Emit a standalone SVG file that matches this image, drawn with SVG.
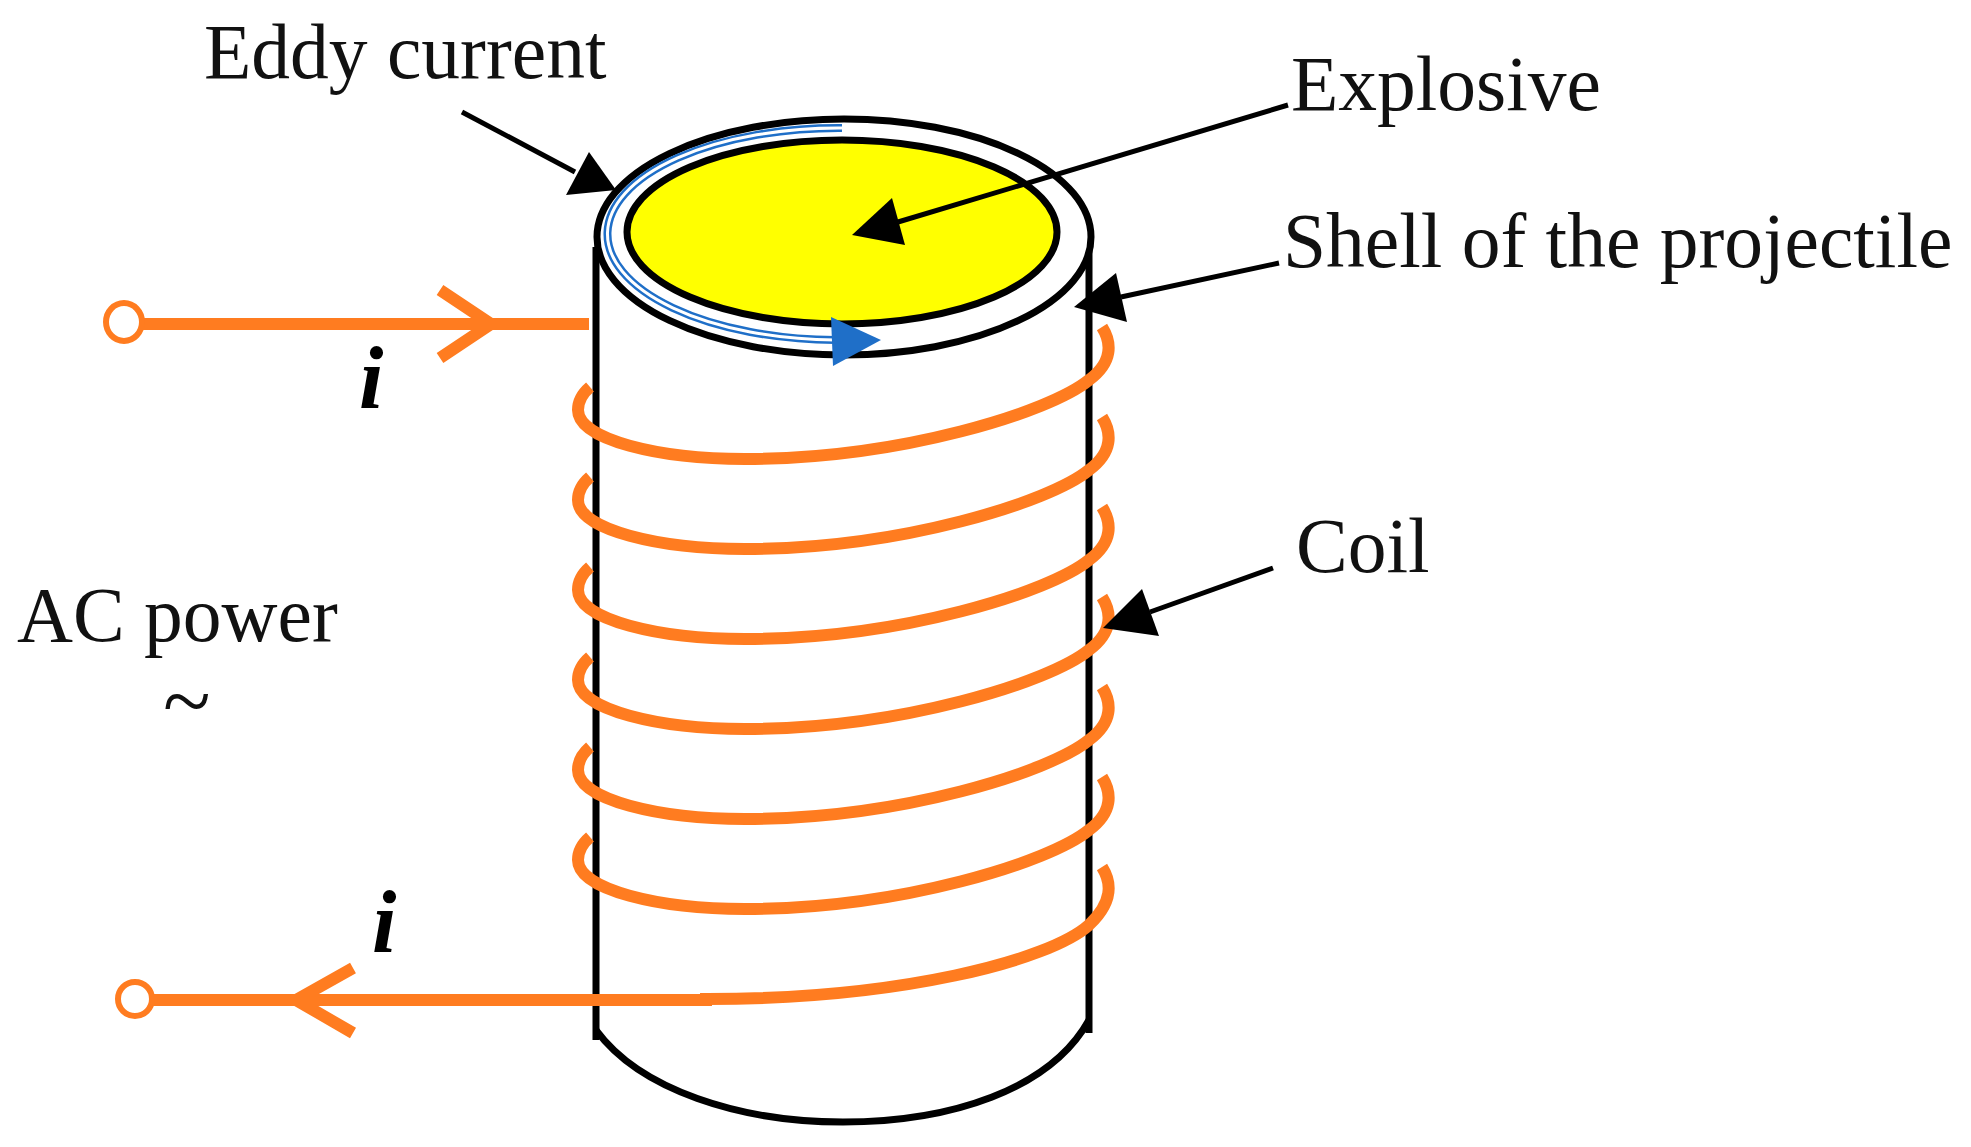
<svg xmlns="http://www.w3.org/2000/svg" width="1971" height="1147" viewBox="0 0 1971 1147">
<style>
text{font-family:"Liberation Serif","Times New Roman",serif;font-size:77.5px;fill:#111}
.i{font-weight:bold;font-style:italic;font-size:88px;fill:#000}
.k{fill:none;stroke:#000;stroke-width:7}
.o{fill:none;stroke:#ff7c20;stroke-width:12;stroke-linecap:butt}
.l{fill:none;stroke:#000;stroke-width:5}
.h{fill:#000}
</style>
<defs>
<path id="turn" class="o" d="M1102 327C1112 343 1113 362 1089 380C1050 412 900 459 745 459C660 459 578 440 578 410C578 400 583 393 590 387"/>
</defs>
<rect width="1971" height="1147" fill="#fff"/>
<g id="projectile">
<path class="k" d="M596 247V1040M1089 240V1033"/>
<path class="k" d="M596 1030C640 1090 740 1122 843 1122C950 1122 1050 1090 1089 1020"/>
<ellipse class="k" cx="844" cy="237" rx="247" ry="118" style="fill:#fff"/>
</g>
<g id="explosive">
<ellipse class="k" cx="842" cy="232" rx="215" ry="92" style="fill:#ff0"/>
</g>
<g id="eddy-current">
<path d="M842 128A231 106 0 0 0 835 340" fill="none" stroke="#1f6fc8" stroke-width="8"/>
<path d="M842 128A231 106 0 0 0 835 340" fill="none" stroke="#fff" stroke-width="3"/>
<polygon points="831,317 881,340 833,366" fill="#1f6fc8"/>
</g>
<g id="coil">
<use href="#turn"/>
<use href="#turn" y="90"/>
<use href="#turn" y="180"/>
<use href="#turn" y="270"/>
<use href="#turn" y="360"/>
<use href="#turn" y="450"/>
<path class="o" d="M1102 867C1112 883 1113 902 1089 925C1050 960 900 1000 700 999"/>
</g>
<g id="connectors">
<path class="o" d="M142 324H589M440 290L491 324L440 358"/>
<ellipse class="o" cx="124" cy="322" rx="18" ry="19" style="stroke-width:6"/>
<path class="o" d="M153 1000H712M353 968L296 1000L353 1033"/>
<circle class="o" cx="135" cy="999" r="17" style="stroke-width:6"/>
<path class="l" d="M462 112L575 172"/>
<polygon class="h" points="616,190 589,152 566,195"/>
<path class="l" d="M1288 105L898 222"/>
<polygon class="h" points="852,235 892,198 905,245"/>
<path class="l" d="M1279 263L1121 297"/>
<polygon class="h" points="1074,307 1116,273 1127,322"/>
<path class="l" d="M1273 568L1150 612"/>
<polygon class="h" points="1103,628 1142,589 1159,636"/>
</g>
<g id="labels">
<text x="204" y="78">Eddy current</text>
<text x="1291" y="110">Explosive</text>
<text x="1283" y="267">Shell of the projectile</text>
<text x="1296" y="572">Coil</text>
<text x="17" y="641">AC power</text>
<text x="163" y="731" style="font-size:88px">~</text>
<text class="i" x="359" y="408">i</text>
<text class="i" x="372" y="952">i</text>
</g>
</svg>
